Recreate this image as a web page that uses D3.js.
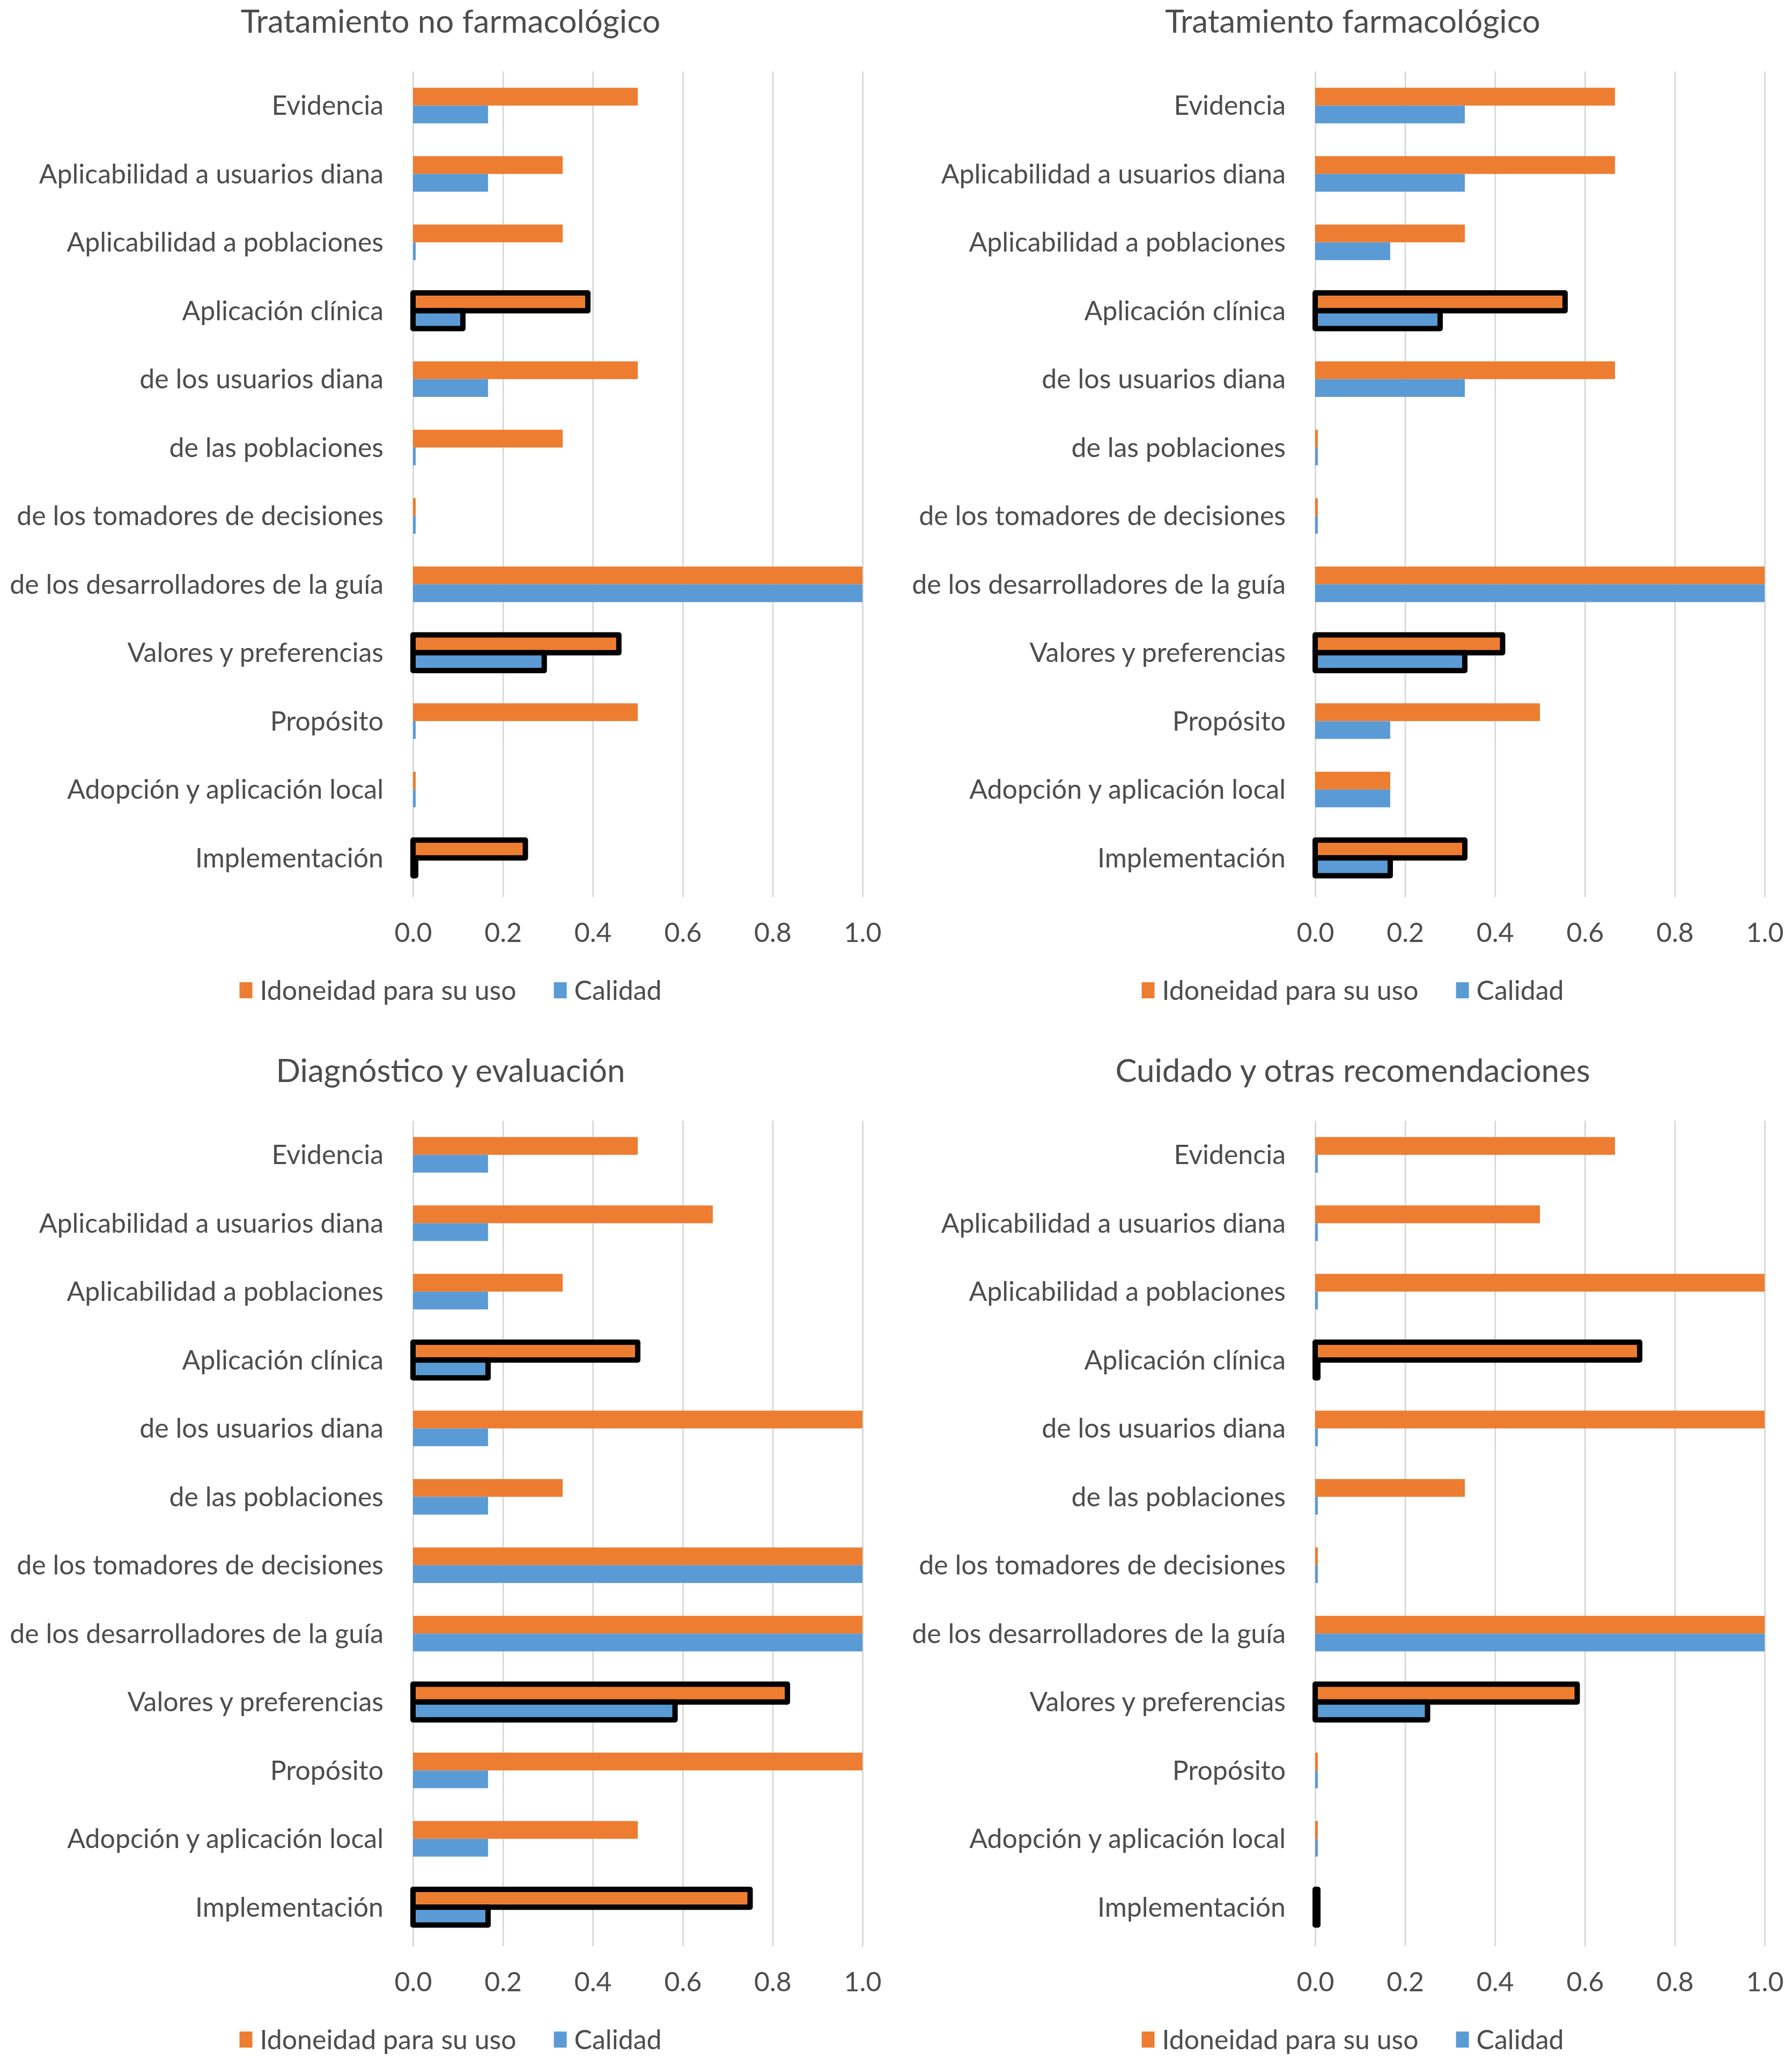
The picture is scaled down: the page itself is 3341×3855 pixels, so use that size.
<!DOCTYPE html>
<html>
<head>
<meta charset="utf-8">
<script src="https://cdn.jsdelivr.net/npm/d3@7/dist/d3.min.js"></script>
<style>
    body { margin: 0; background: #ffffff; }
    svg text { font-family: Lato, "Open Sans", sans-serif; fill: #4d4d4d; }
</style>
</head>
<body>
<svg id="chart"></svg>
<script>
// ---- data ----
const categories = [
    "Evidencia",
    "Aplicabilidad a usuarios diana",
    "Aplicabilidad a poblaciones",
    "Aplicación clínica",
    "de los usuarios diana",
    "de las poblaciones",
    "de los tomadores de decisiones",
    "de los desarrolladores de la guía",
    "Valores y preferencias",
    "Propósito",
    "Adopción y aplicación local",
    "Implementación"
];
const seriesNames = ["Idoneidad para su uso", "Calidad"];
const outlinedCategories = ["Aplicación clínica", "Valores y preferencias", "Implementación"];
const tickValues = [0, 0.2, 0.4, 0.6, 0.8, 1.0];

const panelTitles = [
    "Tratamiento no farmacológico",
    "Tratamiento farmacológico",
    "Diagnóstico y evaluación",
    "Cuidado y otras recomendaciones"
];

const noFarmIdoneidad = [0.5, 0.333, 0.333, 0.389, 0.5, 0.333, 0, 1, 0.458, 0.5, 0, 0.25];
const noFarmCalidad   = [0.167, 0.167, 0, 0.111, 0.167, 0, 0, 1, 0.292, 0, 0, 0];

const farmIdoneidad = [0.667, 0.667, 0.333, 0.556, 0.667, 0, 0, 1, 0.417, 0.5, 0.167, 0.333];
const farmCalidad   = [0.333, 0.333, 0.167, 0.278, 0.333, 0, 0, 1, 0.333, 0.167, 0.167, 0.167];

const diagIdoneidad = [0.5, 0.667, 0.333, 0.5, 1, 0.333, 1, 1, 0.833, 1, 0.5, 0.75];
const diagCalidad   = [0.167, 0.167, 0.167, 0.167, 0.167, 0.167, 1, 1, 0.583, 0.167, 0.167, 0.167];

const cuidadoIdoneidad = [0.667, 0.5, 1, 0.722, 1, 0.333, 0, 1, 0.583, 0, 0, 0];
const cuidadoCalidad   = [0, 0, 0, 0, 0, 0, 0, 1, 0.25, 0, 0, 0];

const panelSeries = [
    [noFarmIdoneidad, noFarmCalidad],
    [farmIdoneidad, farmCalidad],
    [diagIdoneidad, diagCalidad],
    [cuidadoIdoneidad, cuidadoCalidad]
];

class PanelChart {
    constructor(svg, title, series, offsetX, offsetY) {
        this.title = title;
        // rows of { category, values: [idoneidad, calidad] }
        this.rows = categories.map((c, i) => ({
            category: c,
            values: series.map(s => s[i])
        }));

        this.colors = d3.scaleOrdinal().domain(seriesNames).range(["#ED7D31", "#5B9BD5"]);

        this.g = svg.append("g")
            .attr("transform", `translate(${offsetX}, ${offsetY})`);

        // plot box inside the panel
        this.plotTop = 133;
        this.plotBottom = 1663;
        this.gridBottom = 1672;
        this.centerX = 840;

        this.initVis();
    }

    initVis() {
        // A) scales
        this.x = d3.scaleLinear().domain([0, 1]).range([770, 1608]);
        this.y = d3.scaleBand()
            .domain(categories)
            .range([this.plotTop, this.plotBottom])
            .paddingInner(0.48)
            .paddingOuter(0.24);
        this.ySub = d3.scaleBand()
            .domain(seriesNames)
            .range([0, this.y.bandwidth()]);

        // B) title
        this.g.append("text")
            .attr("x", this.centerX)
            .attr("y", 40)
            .attr("dy", "0.35em")
            .attr("text-anchor", "middle")
            .style("font-size", "60px")
            .text(this.title);

        // C) vertical gridlines + tick labels
        const axis = this.g.append("g")
            .attr("transform", `translate(0, ${this.gridBottom})`)
            .call(d3.axisBottom(this.x)
                .tickValues(tickValues)
                .tickSize(-(this.gridBottom - this.plotTop))
                .tickFormat(d3.format(".1f")));
        axis.select(".domain").remove();
        axis.selectAll(".tick line")
            .attr("stroke", "#D9D9D9")
            .attr("stroke-width", 3);
        axis.selectAll(".tick text")
            .attr("y", 66)
            .attr("dy", "0.35em")
            .style("font-size", "50px")
            .attr("fill", "#4d4d4d");

        // D) category labels
        this.g.append("g")
            .selectAll("text")
            .data(categories)
            .join("text")
            .attr("x", this.x(0) - 55)
            .attr("y", d => this.y(d) + this.y.bandwidth() / 2)
            .attr("dy", "0.35em")
            .attr("text-anchor", "end")
            .style("font-size", "50px")
            .text(d => d);

        // E) bars
        this.drawBars();

        // F) legend
        this.drawLegend();
    }

    drawBars() {
        const groups = this.g.append("g")
            .selectAll("g")
            .data(this.rows)
            .join("g")
            .attr("transform", d => `translate(0, ${this.y(d.category)})`);

        groups.each((row, i, nodes) => {
            const outlined = outlinedCategories.includes(row.category);
            d3.select(nodes[i]).selectAll("rect")
                .data(seriesNames.map((s, k) => ({ series: s, value: row.values[k] })))
                .join("rect")
                .attr("x", this.x(0))
                .attr("y", d => this.ySub(d.series))
                .attr("width", d => Math.max(this.x(d.value) - this.x(0), 5))
                .attr("height", this.ySub.bandwidth())
                .attr("fill", d => this.colors(d.series))
                .attr("stroke", outlined ? "#000000" : "none")
                .attr("stroke-width", outlined ? 10 : 0)
                .attr("stroke-linejoin", "round");
        });
    }

    drawLegend() {
        const legend = this.g.append("g");
        const items = legend.selectAll("g")
            .data(seriesNames)
            .join("g");

        items.append("rect")
            .attr("width", 24)
            .attr("height", 30)
            .attr("y", 1846 - 15)
            .attr("fill", d => this.colors(d));

        items.append("text")
            .attr("x", 38)
            .attr("y", 1846)
            .attr("dy", "0.35em")
            .style("font-size", "50px")
            .text(d => d);

        // lay the items out side by side, then centre the whole legend
        let cursor = 0;
        items.each(function () {
            const w = 38 + d3.select(this).select("text").node().getComputedTextLength();
            d3.select(this).attr("transform", `translate(${cursor}, 0)`);
            cursor += w + 70;
        });
        const total = cursor - 70;
        legend.attr("transform", `translate(${this.centerX - total / 2}, 0)`);
    }
}

// ---- build the 2x2 grid ----
const svg = d3.select("#chart")
    .attr("width", 3341)
    .attr("height", 3855);

svg.append("rect")
    .attr("width", 3341)
    .attr("height", 3855)
    .attr("fill", "#ffffff");

const offsets = [[0, 0], [1682, 0], [0, 1956], [1682, 1956]];
panelTitles.forEach((t, i) => {
    new PanelChart(svg, t, panelSeries[i], offsets[i][0], offsets[i][1]);
});
</script>
</body>
</html>
